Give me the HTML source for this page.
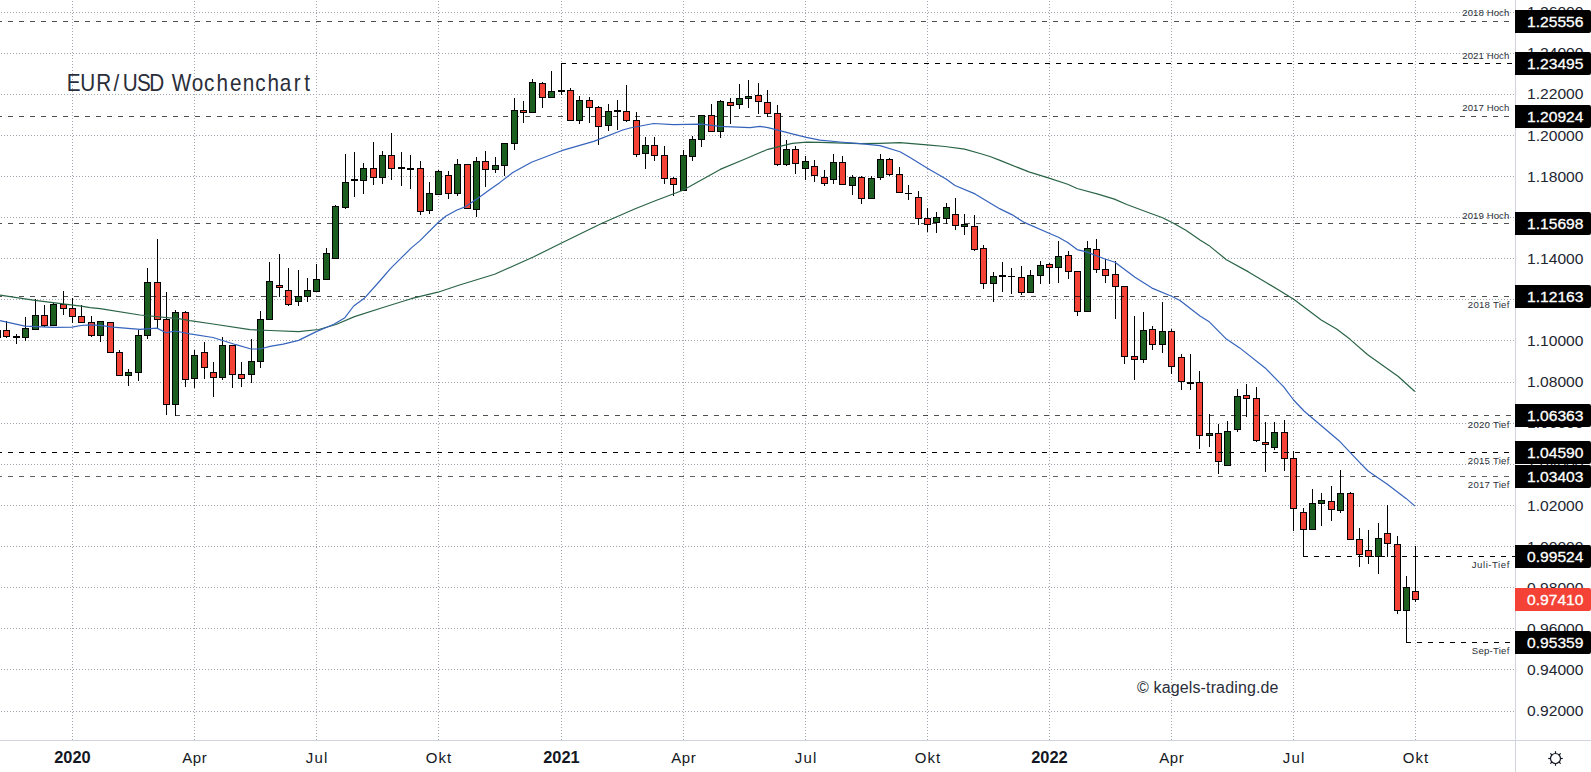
<!DOCTYPE html><html><head><meta charset="utf-8"><style>
html,body{margin:0;padding:0;background:#fff;width:1591px;height:772px;overflow:hidden}
svg{display:block;font-family:"Liberation Sans",sans-serif}
</style></head><body>
<svg width="1591" height="772" viewBox="0 0 1591 772">
<rect width="1591" height="772" fill="#fff"/>
<g stroke="#a3a6b1" stroke-width="1" stroke-dasharray="1 2" shape-rendering="crispEdges">
<path d="M1 12.5H1515"/>
<path d="M1 53.5H1515"/>
<path d="M1 94.5H1515"/>
<path d="M1 135.5H1515"/>
<path d="M1 176.5H1515"/>
<path d="M1 217.5H1515"/>
<path d="M1 258.5H1515"/>
<path d="M1 299.5H1515"/>
<path d="M1 340.5H1515"/>
<path d="M1 382.5H1515"/>
<path d="M1 423.5H1515"/>
<path d="M1 464.5H1515"/>
<path d="M1 505.5H1515"/>
<path d="M1 546.5H1515"/>
<path d="M1 587.5H1515"/>
<path d="M1 628.5H1515"/>
<path d="M1 669.5H1515"/>
<path d="M1 711.5H1515"/>
<path d="M72.5 1V740"/>
<path d="M194.5 1V740"/>
<path d="M316.5 1V740"/>
<path d="M438.5 1V740"/>
<path d="M561.5 1V740"/>
<path d="M683.5 1V740"/>
<path d="M805.5 1V740"/>
<path d="M927.5 1V740"/>
<path d="M1049.5 1V740"/>
<path d="M1171.5 1V740"/>
<path d="M1293.5 1V740"/>
<path d="M1415.5 1V740"/>
</g>
<g stroke-width="1" shape-rendering="crispEdges" fill="none">
<path d="M0 21.5H1515" stroke="rgba(0,0,0,0.69)" stroke-dasharray="5 6" stroke-dashoffset="3"/>
<path d="M561 63.5H1515" stroke="#000" stroke-dasharray="5 6"/>
<path d="M0 116.5H1515" stroke="rgba(0,0,0,0.69)" stroke-dasharray="5 6" stroke-dashoffset="3"/>
<path d="M0 223.5H1515" stroke="rgba(0,0,0,0.69)" stroke-dasharray="5 6" stroke-dashoffset="3"/>
</g>
<g shape-rendering="crispEdges">
<rect x="-3" y="326" width="1" height="15" fill="#000"/>
<rect x="-6" y="330" width="7" height="8" fill="#000"/>
<rect x="-5" y="331" width="5" height="6" fill="#1b5e20"/>
<rect x="6" y="321" width="1" height="17" fill="#000"/>
<rect x="3" y="330" width="7" height="7" fill="#000"/>
<rect x="4" y="331" width="5" height="5" fill="#f44336"/>
<rect x="16" y="334" width="1" height="10" fill="#000"/>
<rect x="13" y="336" width="7" height="2" fill="#000"/>
<rect x="25" y="317" width="1" height="24" fill="#000"/>
<rect x="22" y="328" width="7" height="10" fill="#000"/>
<rect x="23" y="329" width="5" height="8" fill="#1b5e20"/>
<rect x="35" y="299" width="1" height="31" fill="#000"/>
<rect x="32" y="315" width="7" height="15" fill="#000"/>
<rect x="33" y="316" width="5" height="13" fill="#1b5e20"/>
<rect x="44" y="305" width="1" height="22" fill="#000"/>
<rect x="41" y="315" width="7" height="11" fill="#000"/>
<rect x="42" y="316" width="5" height="9" fill="#f44336"/>
<rect x="53" y="303" width="1" height="23" fill="#000"/>
<rect x="50" y="304" width="7" height="22" fill="#000"/>
<rect x="51" y="305" width="5" height="20" fill="#1b5e20"/>
<rect x="63" y="291" width="1" height="24" fill="#000"/>
<rect x="60" y="304" width="7" height="5" fill="#000"/>
<rect x="61" y="305" width="5" height="3" fill="#f44336"/>
<rect x="72" y="298" width="1" height="25" fill="#000"/>
<rect x="69" y="308" width="7" height="9" fill="#000"/>
<rect x="70" y="309" width="5" height="7" fill="#f44336"/>
<rect x="81" y="305" width="1" height="18" fill="#000"/>
<rect x="78" y="316" width="7" height="7" fill="#000"/>
<rect x="79" y="317" width="5" height="5" fill="#f44336"/>
<rect x="91" y="316" width="1" height="21" fill="#000"/>
<rect x="88" y="322" width="7" height="14" fill="#000"/>
<rect x="89" y="323" width="5" height="12" fill="#f44336"/>
<rect x="100" y="321" width="1" height="21" fill="#000"/>
<rect x="97" y="321" width="7" height="15" fill="#000"/>
<rect x="98" y="322" width="5" height="13" fill="#1b5e20"/>
<rect x="110" y="322" width="1" height="31" fill="#000"/>
<rect x="107" y="322" width="7" height="31" fill="#000"/>
<rect x="108" y="323" width="5" height="29" fill="#f44336"/>
<rect x="119" y="350" width="1" height="26" fill="#000"/>
<rect x="116" y="352" width="7" height="24" fill="#000"/>
<rect x="117" y="353" width="5" height="22" fill="#f44336"/>
<rect x="128" y="369" width="1" height="17" fill="#000"/>
<rect x="125" y="372" width="7" height="4" fill="#000"/>
<rect x="126" y="373" width="5" height="2" fill="#1b5e20"/>
<rect x="138" y="330" width="1" height="51" fill="#000"/>
<rect x="135" y="335" width="7" height="38" fill="#000"/>
<rect x="136" y="336" width="5" height="36" fill="#1b5e20"/>
<rect x="147" y="268" width="1" height="71" fill="#000"/>
<rect x="144" y="282" width="7" height="54" fill="#000"/>
<rect x="145" y="283" width="5" height="52" fill="#1b5e20"/>
<rect x="157" y="239" width="1" height="90" fill="#000"/>
<rect x="154" y="282" width="7" height="38" fill="#000"/>
<rect x="155" y="283" width="5" height="36" fill="#f44336"/>
<rect x="166" y="292" width="1" height="123" fill="#000"/>
<rect x="163" y="319" width="7" height="86" fill="#000"/>
<rect x="164" y="320" width="5" height="84" fill="#f44336"/>
<rect x="175" y="310" width="1" height="106" fill="#000"/>
<rect x="172" y="312" width="7" height="93" fill="#000"/>
<rect x="173" y="313" width="5" height="91" fill="#1b5e20"/>
<rect x="185" y="311" width="1" height="76" fill="#000"/>
<rect x="182" y="312" width="7" height="68" fill="#000"/>
<rect x="183" y="313" width="5" height="66" fill="#f44336"/>
<rect x="194" y="350" width="1" height="38" fill="#000"/>
<rect x="191" y="355" width="7" height="24" fill="#000"/>
<rect x="192" y="356" width="5" height="22" fill="#1b5e20"/>
<rect x="204" y="342" width="1" height="37" fill="#000"/>
<rect x="201" y="352" width="7" height="16" fill="#000"/>
<rect x="202" y="353" width="5" height="14" fill="#f44336"/>
<rect x="213" y="362" width="1" height="35" fill="#000"/>
<rect x="210" y="372" width="7" height="6" fill="#000"/>
<rect x="211" y="373" width="5" height="4" fill="#f44336"/>
<rect x="222" y="337" width="1" height="43" fill="#000"/>
<rect x="219" y="345" width="7" height="33" fill="#000"/>
<rect x="220" y="346" width="5" height="31" fill="#1b5e20"/>
<rect x="232" y="345" width="1" height="43" fill="#000"/>
<rect x="229" y="345" width="7" height="30" fill="#000"/>
<rect x="230" y="346" width="5" height="28" fill="#f44336"/>
<rect x="241" y="362" width="1" height="25" fill="#000"/>
<rect x="238" y="374" width="7" height="5" fill="#000"/>
<rect x="239" y="375" width="5" height="3" fill="#f44336"/>
<rect x="251" y="339" width="1" height="44" fill="#000"/>
<rect x="248" y="361" width="7" height="14" fill="#000"/>
<rect x="249" y="362" width="5" height="12" fill="#1b5e20"/>
<rect x="260" y="311" width="1" height="57" fill="#000"/>
<rect x="257" y="319" width="7" height="43" fill="#000"/>
<rect x="258" y="320" width="5" height="41" fill="#1b5e20"/>
<rect x="269" y="262" width="1" height="58" fill="#000"/>
<rect x="266" y="281" width="7" height="39" fill="#000"/>
<rect x="267" y="282" width="5" height="37" fill="#1b5e20"/>
<rect x="279" y="254" width="1" height="43" fill="#000"/>
<rect x="276" y="285" width="7" height="3" fill="#000"/>
<rect x="277" y="286" width="5" height="1" fill="#f44336"/>
<rect x="288" y="268" width="1" height="38" fill="#000"/>
<rect x="285" y="290" width="7" height="15" fill="#000"/>
<rect x="286" y="291" width="5" height="13" fill="#f44336"/>
<rect x="298" y="270" width="1" height="36" fill="#000"/>
<rect x="295" y="296" width="7" height="6" fill="#000"/>
<rect x="296" y="297" width="5" height="4" fill="#1b5e20"/>
<rect x="307" y="278" width="1" height="24" fill="#000"/>
<rect x="304" y="290" width="7" height="7" fill="#000"/>
<rect x="305" y="291" width="5" height="5" fill="#1b5e20"/>
<rect x="316" y="264" width="1" height="28" fill="#000"/>
<rect x="313" y="279" width="7" height="13" fill="#000"/>
<rect x="314" y="280" width="5" height="11" fill="#1b5e20"/>
<rect x="326" y="248" width="1" height="32" fill="#000"/>
<rect x="323" y="253" width="7" height="27" fill="#000"/>
<rect x="324" y="254" width="5" height="25" fill="#1b5e20"/>
<rect x="335" y="205" width="1" height="54" fill="#000"/>
<rect x="332" y="206" width="7" height="53" fill="#000"/>
<rect x="333" y="207" width="5" height="51" fill="#1b5e20"/>
<rect x="345" y="154" width="1" height="55" fill="#000"/>
<rect x="342" y="182" width="7" height="26" fill="#000"/>
<rect x="343" y="183" width="5" height="24" fill="#1b5e20"/>
<rect x="354" y="152" width="1" height="45" fill="#000"/>
<rect x="351" y="179" width="7" height="2" fill="#000"/>
<rect x="363" y="163" width="1" height="31" fill="#000"/>
<rect x="360" y="168" width="7" height="13" fill="#000"/>
<rect x="361" y="169" width="5" height="11" fill="#1b5e20"/>
<rect x="373" y="142" width="1" height="43" fill="#000"/>
<rect x="370" y="168" width="7" height="10" fill="#000"/>
<rect x="371" y="169" width="5" height="8" fill="#f44336"/>
<rect x="382" y="151" width="1" height="33" fill="#000"/>
<rect x="379" y="155" width="7" height="23" fill="#000"/>
<rect x="380" y="156" width="5" height="21" fill="#1b5e20"/>
<rect x="391" y="133" width="1" height="47" fill="#000"/>
<rect x="388" y="155" width="7" height="14" fill="#000"/>
<rect x="389" y="156" width="5" height="12" fill="#f44336"/>
<rect x="401" y="152" width="1" height="34" fill="#000"/>
<rect x="398" y="167" width="7" height="2" fill="#000"/>
<rect x="410" y="155" width="1" height="34" fill="#000"/>
<rect x="407" y="168" width="7" height="2" fill="#000"/>
<rect x="420" y="161" width="1" height="54" fill="#000"/>
<rect x="417" y="168" width="7" height="44" fill="#000"/>
<rect x="418" y="169" width="5" height="42" fill="#f44336"/>
<rect x="429" y="182" width="1" height="32" fill="#000"/>
<rect x="426" y="193" width="7" height="18" fill="#000"/>
<rect x="427" y="194" width="5" height="16" fill="#1b5e20"/>
<rect x="438" y="170" width="1" height="25" fill="#000"/>
<rect x="435" y="171" width="7" height="24" fill="#000"/>
<rect x="436" y="172" width="5" height="22" fill="#1b5e20"/>
<rect x="448" y="171" width="1" height="28" fill="#000"/>
<rect x="445" y="175" width="7" height="19" fill="#000"/>
<rect x="446" y="176" width="5" height="17" fill="#f44336"/>
<rect x="457" y="159" width="1" height="37" fill="#000"/>
<rect x="454" y="164" width="7" height="30" fill="#000"/>
<rect x="455" y="165" width="5" height="28" fill="#1b5e20"/>
<rect x="467" y="165" width="1" height="44" fill="#000"/>
<rect x="464" y="164" width="7" height="45" fill="#000"/>
<rect x="465" y="165" width="5" height="43" fill="#f44336"/>
<rect x="476" y="157" width="1" height="60" fill="#000"/>
<rect x="473" y="161" width="7" height="49" fill="#000"/>
<rect x="474" y="162" width="5" height="47" fill="#1b5e20"/>
<rect x="485" y="151" width="1" height="36" fill="#000"/>
<rect x="482" y="161" width="7" height="9" fill="#000"/>
<rect x="483" y="162" width="5" height="7" fill="#f44336"/>
<rect x="495" y="157" width="1" height="16" fill="#000"/>
<rect x="492" y="165" width="7" height="5" fill="#000"/>
<rect x="493" y="166" width="5" height="3" fill="#1b5e20"/>
<rect x="504" y="143" width="1" height="33" fill="#000"/>
<rect x="501" y="143" width="7" height="23" fill="#000"/>
<rect x="502" y="144" width="5" height="21" fill="#1b5e20"/>
<rect x="514" y="98" width="1" height="52" fill="#000"/>
<rect x="511" y="110" width="7" height="34" fill="#000"/>
<rect x="512" y="111" width="5" height="32" fill="#1b5e20"/>
<rect x="523" y="101" width="1" height="22" fill="#000"/>
<rect x="520" y="110" width="7" height="3" fill="#000"/>
<rect x="521" y="111" width="5" height="1" fill="#f44336"/>
<rect x="532" y="79" width="1" height="34" fill="#000"/>
<rect x="529" y="82" width="7" height="31" fill="#000"/>
<rect x="530" y="83" width="5" height="29" fill="#1b5e20"/>
<rect x="542" y="82" width="1" height="26" fill="#000"/>
<rect x="539" y="83" width="7" height="15" fill="#000"/>
<rect x="540" y="84" width="5" height="13" fill="#f44336"/>
<rect x="551" y="71" width="1" height="27" fill="#000"/>
<rect x="548" y="91" width="7" height="7" fill="#000"/>
<rect x="549" y="92" width="5" height="5" fill="#1b5e20"/>
<rect x="561" y="63" width="1" height="32" fill="#000"/>
<rect x="558" y="90" width="7" height="2" fill="#000"/>
<rect x="570" y="88" width="1" height="33" fill="#000"/>
<rect x="567" y="90" width="7" height="31" fill="#000"/>
<rect x="568" y="91" width="5" height="29" fill="#f44336"/>
<rect x="579" y="96" width="1" height="28" fill="#000"/>
<rect x="576" y="100" width="7" height="21" fill="#000"/>
<rect x="577" y="101" width="5" height="19" fill="#1b5e20"/>
<rect x="589" y="97" width="1" height="26" fill="#000"/>
<rect x="586" y="100" width="7" height="8" fill="#000"/>
<rect x="587" y="101" width="5" height="6" fill="#f44336"/>
<rect x="598" y="106" width="1" height="39" fill="#000"/>
<rect x="595" y="107" width="7" height="20" fill="#000"/>
<rect x="596" y="108" width="5" height="18" fill="#f44336"/>
<rect x="608" y="104" width="1" height="27" fill="#000"/>
<rect x="605" y="111" width="7" height="15" fill="#000"/>
<rect x="606" y="112" width="5" height="13" fill="#1b5e20"/>
<rect x="617" y="100" width="1" height="30" fill="#000"/>
<rect x="614" y="110" width="7" height="2" fill="#000"/>
<rect x="626" y="85" width="1" height="37" fill="#000"/>
<rect x="623" y="111" width="7" height="10" fill="#000"/>
<rect x="624" y="112" width="5" height="8" fill="#f44336"/>
<rect x="636" y="112" width="1" height="45" fill="#000"/>
<rect x="633" y="120" width="7" height="35" fill="#000"/>
<rect x="634" y="121" width="5" height="33" fill="#f44336"/>
<rect x="645" y="137" width="1" height="32" fill="#000"/>
<rect x="642" y="145" width="7" height="9" fill="#000"/>
<rect x="643" y="146" width="5" height="7" fill="#1b5e20"/>
<rect x="654" y="137" width="1" height="24" fill="#000"/>
<rect x="651" y="145" width="7" height="11" fill="#000"/>
<rect x="652" y="146" width="5" height="9" fill="#f44336"/>
<rect x="664" y="146" width="1" height="38" fill="#000"/>
<rect x="661" y="155" width="7" height="24" fill="#000"/>
<rect x="662" y="156" width="5" height="22" fill="#f44336"/>
<rect x="673" y="177" width="1" height="19" fill="#000"/>
<rect x="670" y="178" width="7" height="7" fill="#000"/>
<rect x="671" y="179" width="5" height="5" fill="#f44336"/>
<rect x="683" y="150" width="1" height="41" fill="#000"/>
<rect x="680" y="155" width="7" height="36" fill="#000"/>
<rect x="681" y="156" width="5" height="34" fill="#1b5e20"/>
<rect x="692" y="136" width="1" height="25" fill="#000"/>
<rect x="689" y="139" width="7" height="18" fill="#000"/>
<rect x="690" y="140" width="5" height="16" fill="#1b5e20"/>
<rect x="701" y="115" width="1" height="32" fill="#000"/>
<rect x="698" y="115" width="7" height="25" fill="#000"/>
<rect x="699" y="116" width="5" height="23" fill="#1b5e20"/>
<rect x="711" y="104" width="1" height="28" fill="#000"/>
<rect x="708" y="115" width="7" height="17" fill="#000"/>
<rect x="709" y="116" width="5" height="15" fill="#f44336"/>
<rect x="720" y="100" width="1" height="38" fill="#000"/>
<rect x="717" y="101" width="7" height="31" fill="#000"/>
<rect x="718" y="102" width="5" height="29" fill="#1b5e20"/>
<rect x="730" y="98" width="1" height="26" fill="#000"/>
<rect x="727" y="102" width="7" height="4" fill="#000"/>
<rect x="728" y="103" width="5" height="2" fill="#f44336"/>
<rect x="739" y="84" width="1" height="25" fill="#000"/>
<rect x="736" y="98" width="7" height="7" fill="#000"/>
<rect x="737" y="99" width="5" height="5" fill="#1b5e20"/>
<rect x="748" y="80" width="1" height="28" fill="#000"/>
<rect x="745" y="96" width="7" height="3" fill="#000"/>
<rect x="746" y="97" width="5" height="1" fill="#1b5e20"/>
<rect x="758" y="83" width="1" height="31" fill="#000"/>
<rect x="755" y="95" width="7" height="7" fill="#000"/>
<rect x="756" y="96" width="5" height="5" fill="#f44336"/>
<rect x="767" y="90" width="1" height="27" fill="#000"/>
<rect x="764" y="102" width="7" height="12" fill="#000"/>
<rect x="765" y="103" width="5" height="10" fill="#f44336"/>
<rect x="777" y="105" width="1" height="61" fill="#000"/>
<rect x="774" y="113" width="7" height="52" fill="#000"/>
<rect x="775" y="114" width="5" height="50" fill="#f44336"/>
<rect x="786" y="140" width="1" height="26" fill="#000"/>
<rect x="783" y="149" width="7" height="16" fill="#000"/>
<rect x="784" y="150" width="5" height="14" fill="#1b5e20"/>
<rect x="795" y="146" width="1" height="28" fill="#000"/>
<rect x="792" y="149" width="7" height="15" fill="#000"/>
<rect x="793" y="150" width="5" height="13" fill="#f44336"/>
<rect x="805" y="156" width="1" height="24" fill="#000"/>
<rect x="802" y="161" width="7" height="8" fill="#000"/>
<rect x="803" y="162" width="5" height="6" fill="#1b5e20"/>
<rect x="814" y="160" width="1" height="22" fill="#000"/>
<rect x="811" y="166" width="7" height="10" fill="#000"/>
<rect x="812" y="167" width="5" height="8" fill="#f44336"/>
<rect x="824" y="170" width="1" height="16" fill="#000"/>
<rect x="821" y="177" width="7" height="7" fill="#000"/>
<rect x="822" y="178" width="5" height="5" fill="#f44336"/>
<rect x="833" y="154" width="1" height="30" fill="#000"/>
<rect x="830" y="162" width="7" height="18" fill="#000"/>
<rect x="831" y="163" width="5" height="16" fill="#1b5e20"/>
<rect x="842" y="156" width="1" height="29" fill="#000"/>
<rect x="839" y="162" width="7" height="23" fill="#000"/>
<rect x="840" y="163" width="5" height="21" fill="#f44336"/>
<rect x="852" y="175" width="1" height="20" fill="#000"/>
<rect x="849" y="177" width="7" height="9" fill="#000"/>
<rect x="850" y="178" width="5" height="7" fill="#1b5e20"/>
<rect x="861" y="176" width="1" height="28" fill="#000"/>
<rect x="858" y="177" width="7" height="22" fill="#000"/>
<rect x="859" y="178" width="5" height="20" fill="#f44336"/>
<rect x="871" y="176" width="1" height="23" fill="#000"/>
<rect x="868" y="178" width="7" height="21" fill="#000"/>
<rect x="869" y="179" width="5" height="19" fill="#1b5e20"/>
<rect x="880" y="154" width="1" height="26" fill="#000"/>
<rect x="877" y="159" width="7" height="19" fill="#000"/>
<rect x="878" y="160" width="5" height="17" fill="#1b5e20"/>
<rect x="889" y="158" width="1" height="18" fill="#000"/>
<rect x="886" y="159" width="7" height="16" fill="#000"/>
<rect x="887" y="160" width="5" height="14" fill="#f44336"/>
<rect x="899" y="167" width="1" height="26" fill="#000"/>
<rect x="896" y="174" width="7" height="19" fill="#000"/>
<rect x="897" y="175" width="5" height="17" fill="#f44336"/>
<rect x="908" y="185" width="1" height="15" fill="#000"/>
<rect x="905" y="193" width="7" height="1" fill="#000"/>
<rect x="918" y="191" width="1" height="34" fill="#000"/>
<rect x="915" y="197" width="7" height="22" fill="#000"/>
<rect x="916" y="198" width="5" height="20" fill="#f44336"/>
<rect x="927" y="208" width="1" height="24" fill="#000"/>
<rect x="924" y="218" width="7" height="7" fill="#000"/>
<rect x="925" y="219" width="5" height="5" fill="#f44336"/>
<rect x="936" y="212" width="1" height="21" fill="#000"/>
<rect x="933" y="217" width="7" height="6" fill="#000"/>
<rect x="934" y="218" width="5" height="4" fill="#1b5e20"/>
<rect x="946" y="203" width="1" height="21" fill="#000"/>
<rect x="943" y="207" width="7" height="12" fill="#000"/>
<rect x="944" y="208" width="5" height="10" fill="#1b5e20"/>
<rect x="955" y="198" width="1" height="32" fill="#000"/>
<rect x="952" y="214" width="7" height="12" fill="#000"/>
<rect x="953" y="215" width="5" height="10" fill="#f44336"/>
<rect x="964" y="214" width="1" height="21" fill="#000"/>
<rect x="961" y="224" width="7" height="3" fill="#000"/>
<rect x="962" y="225" width="5" height="1" fill="#1b5e20"/>
<rect x="974" y="215" width="1" height="36" fill="#000"/>
<rect x="971" y="226" width="7" height="24" fill="#000"/>
<rect x="972" y="227" width="5" height="22" fill="#f44336"/>
<rect x="983" y="245" width="1" height="44" fill="#000"/>
<rect x="980" y="248" width="7" height="36" fill="#000"/>
<rect x="981" y="249" width="5" height="34" fill="#f44336"/>
<rect x="993" y="272" width="1" height="30" fill="#000"/>
<rect x="990" y="276" width="7" height="8" fill="#000"/>
<rect x="991" y="277" width="5" height="6" fill="#1b5e20"/>
<rect x="1002" y="262" width="1" height="30" fill="#000"/>
<rect x="999" y="275" width="7" height="2" fill="#000"/>
<rect x="1011" y="268" width="1" height="26" fill="#000"/>
<rect x="1008" y="276" width="7" height="1" fill="#000"/>
<rect x="1021" y="266" width="1" height="29" fill="#000"/>
<rect x="1018" y="277" width="7" height="16" fill="#000"/>
<rect x="1019" y="278" width="5" height="14" fill="#f44336"/>
<rect x="1030" y="270" width="1" height="23" fill="#000"/>
<rect x="1027" y="275" width="7" height="18" fill="#000"/>
<rect x="1028" y="276" width="5" height="16" fill="#1b5e20"/>
<rect x="1040" y="261" width="1" height="23" fill="#000"/>
<rect x="1037" y="265" width="7" height="11" fill="#000"/>
<rect x="1038" y="266" width="5" height="9" fill="#1b5e20"/>
<rect x="1049" y="263" width="1" height="21" fill="#000"/>
<rect x="1046" y="264" width="7" height="4" fill="#000"/>
<rect x="1047" y="265" width="5" height="2" fill="#f44336"/>
<rect x="1058" y="241" width="1" height="42" fill="#000"/>
<rect x="1055" y="256" width="7" height="12" fill="#000"/>
<rect x="1056" y="257" width="5" height="10" fill="#1b5e20"/>
<rect x="1068" y="251" width="1" height="28" fill="#000"/>
<rect x="1065" y="255" width="7" height="17" fill="#000"/>
<rect x="1066" y="256" width="5" height="15" fill="#f44336"/>
<rect x="1077" y="271" width="1" height="45" fill="#000"/>
<rect x="1074" y="271" width="7" height="41" fill="#000"/>
<rect x="1075" y="272" width="5" height="39" fill="#f44336"/>
<rect x="1087" y="241" width="1" height="71" fill="#000"/>
<rect x="1084" y="248" width="7" height="64" fill="#000"/>
<rect x="1085" y="249" width="5" height="62" fill="#1b5e20"/>
<rect x="1096" y="239" width="1" height="34" fill="#000"/>
<rect x="1093" y="249" width="7" height="21" fill="#000"/>
<rect x="1094" y="250" width="5" height="19" fill="#f44336"/>
<rect x="1105" y="259" width="1" height="24" fill="#000"/>
<rect x="1102" y="269" width="7" height="7" fill="#000"/>
<rect x="1103" y="270" width="5" height="5" fill="#f44336"/>
<rect x="1115" y="261" width="1" height="58" fill="#000"/>
<rect x="1112" y="274" width="7" height="13" fill="#000"/>
<rect x="1113" y="275" width="5" height="11" fill="#f44336"/>
<rect x="1124" y="286" width="1" height="78" fill="#000"/>
<rect x="1121" y="286" width="7" height="71" fill="#000"/>
<rect x="1122" y="287" width="5" height="69" fill="#f44336"/>
<rect x="1134" y="316" width="1" height="64" fill="#000"/>
<rect x="1131" y="356" width="7" height="4" fill="#000"/>
<rect x="1132" y="357" width="5" height="2" fill="#f44336"/>
<rect x="1143" y="312" width="1" height="51" fill="#000"/>
<rect x="1140" y="330" width="7" height="30" fill="#000"/>
<rect x="1141" y="331" width="5" height="28" fill="#1b5e20"/>
<rect x="1152" y="326" width="1" height="24" fill="#000"/>
<rect x="1149" y="329" width="7" height="16" fill="#000"/>
<rect x="1150" y="330" width="5" height="14" fill="#f44336"/>
<rect x="1162" y="302" width="1" height="51" fill="#000"/>
<rect x="1159" y="331" width="7" height="14" fill="#000"/>
<rect x="1160" y="332" width="5" height="12" fill="#1b5e20"/>
<rect x="1171" y="329" width="1" height="45" fill="#000"/>
<rect x="1168" y="331" width="7" height="36" fill="#000"/>
<rect x="1169" y="332" width="5" height="34" fill="#f44336"/>
<rect x="1181" y="354" width="1" height="36" fill="#000"/>
<rect x="1178" y="357" width="7" height="25" fill="#000"/>
<rect x="1179" y="358" width="5" height="23" fill="#f44336"/>
<rect x="1190" y="354" width="1" height="36" fill="#000"/>
<rect x="1187" y="382" width="7" height="2" fill="#000"/>
<rect x="1199" y="371" width="1" height="78" fill="#000"/>
<rect x="1196" y="382" width="7" height="54" fill="#000"/>
<rect x="1197" y="383" width="5" height="52" fill="#f44336"/>
<rect x="1209" y="414" width="1" height="33" fill="#000"/>
<rect x="1206" y="433" width="7" height="3" fill="#000"/>
<rect x="1207" y="434" width="5" height="1" fill="#1b5e20"/>
<rect x="1218" y="424" width="1" height="50" fill="#000"/>
<rect x="1215" y="433" width="7" height="29" fill="#000"/>
<rect x="1216" y="434" width="5" height="27" fill="#f44336"/>
<rect x="1227" y="421" width="1" height="45" fill="#000"/>
<rect x="1224" y="431" width="7" height="35" fill="#000"/>
<rect x="1225" y="432" width="5" height="33" fill="#1b5e20"/>
<rect x="1237" y="389" width="1" height="43" fill="#000"/>
<rect x="1234" y="396" width="7" height="34" fill="#000"/>
<rect x="1235" y="397" width="5" height="32" fill="#1b5e20"/>
<rect x="1246" y="384" width="1" height="33" fill="#000"/>
<rect x="1243" y="395" width="7" height="4" fill="#000"/>
<rect x="1244" y="396" width="5" height="2" fill="#f44336"/>
<rect x="1256" y="387" width="1" height="55" fill="#000"/>
<rect x="1253" y="398" width="7" height="43" fill="#000"/>
<rect x="1254" y="399" width="5" height="41" fill="#f44336"/>
<rect x="1265" y="422" width="1" height="50" fill="#000"/>
<rect x="1262" y="442" width="7" height="3" fill="#000"/>
<rect x="1263" y="443" width="5" height="1" fill="#f44336"/>
<rect x="1274" y="422" width="1" height="28" fill="#000"/>
<rect x="1271" y="432" width="7" height="16" fill="#000"/>
<rect x="1272" y="433" width="5" height="14" fill="#1b5e20"/>
<rect x="1284" y="420" width="1" height="51" fill="#000"/>
<rect x="1281" y="432" width="7" height="27" fill="#000"/>
<rect x="1282" y="433" width="5" height="25" fill="#f44336"/>
<rect x="1293" y="451" width="1" height="80" fill="#000"/>
<rect x="1290" y="458" width="7" height="51" fill="#000"/>
<rect x="1291" y="459" width="5" height="49" fill="#f44336"/>
<rect x="1303" y="508" width="1" height="49" fill="#000"/>
<rect x="1300" y="512" width="7" height="18" fill="#000"/>
<rect x="1301" y="513" width="5" height="16" fill="#f44336"/>
<rect x="1312" y="489" width="1" height="41" fill="#000"/>
<rect x="1309" y="503" width="7" height="27" fill="#000"/>
<rect x="1310" y="504" width="5" height="25" fill="#1b5e20"/>
<rect x="1321" y="493" width="1" height="33" fill="#000"/>
<rect x="1318" y="500" width="7" height="4" fill="#000"/>
<rect x="1319" y="501" width="5" height="2" fill="#1b5e20"/>
<rect x="1331" y="486" width="1" height="35" fill="#000"/>
<rect x="1328" y="501" width="7" height="9" fill="#000"/>
<rect x="1329" y="502" width="5" height="7" fill="#f44336"/>
<rect x="1340" y="470" width="1" height="43" fill="#000"/>
<rect x="1337" y="493" width="7" height="18" fill="#000"/>
<rect x="1338" y="494" width="5" height="16" fill="#1b5e20"/>
<rect x="1350" y="492" width="1" height="48" fill="#000"/>
<rect x="1347" y="493" width="7" height="47" fill="#000"/>
<rect x="1348" y="494" width="5" height="45" fill="#f44336"/>
<rect x="1359" y="528" width="1" height="39" fill="#000"/>
<rect x="1356" y="539" width="7" height="16" fill="#000"/>
<rect x="1357" y="540" width="5" height="14" fill="#f44336"/>
<rect x="1368" y="530" width="1" height="34" fill="#000"/>
<rect x="1365" y="550" width="7" height="7" fill="#000"/>
<rect x="1366" y="551" width="5" height="5" fill="#f44336"/>
<rect x="1378" y="523" width="1" height="51" fill="#000"/>
<rect x="1375" y="538" width="7" height="19" fill="#000"/>
<rect x="1376" y="539" width="5" height="17" fill="#1b5e20"/>
<rect x="1387" y="505" width="1" height="52" fill="#000"/>
<rect x="1384" y="533" width="7" height="11" fill="#000"/>
<rect x="1385" y="534" width="5" height="9" fill="#f44336"/>
<rect x="1397" y="536" width="1" height="78" fill="#000"/>
<rect x="1394" y="544" width="7" height="67" fill="#000"/>
<rect x="1395" y="545" width="5" height="65" fill="#f44336"/>
<rect x="1406" y="576" width="1" height="67" fill="#000"/>
<rect x="1403" y="587" width="7" height="24" fill="#000"/>
<rect x="1404" y="588" width="5" height="22" fill="#1b5e20"/>
<rect x="1415" y="546" width="1" height="56" fill="#000"/>
<rect x="1412" y="591" width="7" height="9" fill="#000"/>
<rect x="1413" y="592" width="5" height="7" fill="#f44336"/>
</g>
<g stroke-width="1" shape-rendering="crispEdges" fill="none">
<path d="M0 296.5H1515" stroke="rgba(0,0,0,0.69)" stroke-dasharray="5 6" stroke-dashoffset="3"/>
<path d="M175 415.5H1515" stroke="rgba(0,0,0,0.69)" stroke-dasharray="5 6"/>
<path d="M0 452.5H1515" stroke="#000" stroke-dasharray="5 6" stroke-dashoffset="3"/>
<path d="M0 476.5H1515" stroke="rgba(0,0,0,0.62)" stroke-dasharray="5 6" stroke-dashoffset="3"/>
<path d="M1303 556.5H1515" stroke="#000" stroke-dasharray="5 6"/>
<path d="M1406 642.5H1515" stroke="#000" stroke-dasharray="5 6"/>
</g>
<polyline points="0.0,295.2 35.0,300.4 63.0,303.9 81.0,306.2 90.0,307.6 100.0,308.6 140.0,315.0 180.0,318.8 190.0,320.6 213.0,324.0 250.0,329.6 270.0,330.5 298.6,331.6 318.8,329.5 336.0,324.5 354.5,316.6 383.0,307.5 411.1,298.7 437.9,292.2 458.8,285.3 494.6,274.3 533.3,257.0 563.1,242.2 602.0,223.3 635.2,208.8 655.9,200.5 682.9,190.2 720.2,169.4 745.1,159.0 767.9,149.3 780.0,146.4 792.2,143.4 806.4,142.1 820.0,142.3 860.0,143.6 880.0,143.3 900.0,142.7 926.9,144.8 945.0,146.5 964.6,149.1 980.0,153.5 990.0,156.5 1000.0,160.4 1028.9,171.9 1049.1,178.1 1067.7,184.3 1077.1,188.5 1098.8,194.4 1114.4,199.1 1126.8,204.5 1145.5,211.5 1162.6,217.7 1173.5,223.2 1185.9,230.2 1200.0,239.9 1208.8,245.4 1226.4,259.7 1248.5,271.9 1266.1,282.4 1288.1,295.7 1294.7,300.1 1321.2,319.9 1336.6,329.1 1349.8,339.1 1367.4,354.5 1398.3,376.5 1414.8,391.5" fill="none" stroke="#2a6446" stroke-width="1.2" stroke-linejoin="round"/>
<polyline points="0.0,320.6 25.0,326.2 53.0,327.4 72.0,327.2 81.0,325.5 90.0,324.9 100.0,325.3 113.0,327.2 140.0,329.4 157.0,328.1 166.0,332.8 175.0,331.0 190.0,333.8 213.0,337.5 221.8,340.2 236.0,344.7 251.0,349.0 260.0,349.0 270.0,346.3 283.2,344.1 298.6,340.4 316.3,331.6 333.9,324.3 344.9,317.7 353.7,306.0 364.7,297.9 380.2,280.5 390.2,268.9 411.1,248.1 420.0,240.6 437.9,222.8 446.0,216.0 457.0,210.0 465.7,206.6 480.0,196.7 490.0,189.5 500.0,182.4 512.8,172.5 531.5,162.2 561.6,150.7 593.7,141.4 622.8,130.0 630.0,128.0 653.6,123.5 673.4,124.7 700.7,124.2 720.0,126.4 750.0,127.6 760.0,126.4 767.9,127.7 777.9,130.2 792.2,133.8 806.4,137.3 820.0,140.1 840.0,142.0 860.0,143.7 880.0,145.6 900.0,151.7 910.0,157.6 927.0,167.9 946.0,178.9 955.0,185.5 975.0,193.9 990.0,203.0 1000.0,208.9 1011.8,214.6 1024.2,222.4 1049.1,233.3 1058.4,237.2 1067.7,242.6 1077.1,249.6 1086.4,251.9 1105.0,259.0 1115.0,262.2 1135.0,277.3 1152.0,288.1 1171.0,296.0 1180.0,300.5 1200.0,315.9 1208.8,321.4 1226.4,339.1 1239.7,347.9 1266.1,368.8 1283.7,386.9 1293.6,400.0 1304.0,411.0 1339.0,440.7 1360.0,462.8 1368.0,471.0 1387.0,484.0 1406.0,498.4 1415.0,506.1" fill="none" stroke="#3563bb" stroke-width="1.2" stroke-linejoin="round"/>
<g font-size="9.6" fill="#2a2e39" text-anchor="end">
<text x="1509.3" y="16.23" textLength="47" lengthAdjust="spacing">2018 Hoch</text>
<text x="1509.3" y="58.60" textLength="47" lengthAdjust="spacing">2021 Hoch</text>
<text x="1509.3" y="111.46" textLength="47" lengthAdjust="spacing">2017 Hoch</text>
<text x="1509.3" y="218.90" textLength="47" lengthAdjust="spacing">2019 Hoch</text>
<text x="1509.3" y="308.27" textLength="41.5" lengthAdjust="spacing">2018 Tief</text>
<text x="1509.3" y="427.52" textLength="41.5" lengthAdjust="spacing">2020 Tief</text>
<text x="1509.3" y="463.97" textLength="41.5" lengthAdjust="spacing">2015 Tief</text>
<text x="1509.3" y="488.37" textLength="41.5" lengthAdjust="spacing">2017 Tief</text>
<text x="1509.3" y="568.12" textLength="37.5" lengthAdjust="spacing">Juli-Tief</text>
<text x="1509.3" y="653.75" textLength="37.5" lengthAdjust="spacing">Sep-Tief</text>
</g>
<rect x="1515" y="0" width="1" height="772" fill="#d1d4dc"/>
<rect x="0" y="740" width="1591" height="1" fill="#d1d4dc"/>
<g font-size="15.3" fill="#222631">
<text x="1527" y="17.20" textLength="56.5" lengthAdjust="spacingAndGlyphs">1.26000</text>
<text x="1527" y="58.32" textLength="56.5" lengthAdjust="spacingAndGlyphs">1.24000</text>
<text x="1527" y="99.44" textLength="56.5" lengthAdjust="spacingAndGlyphs">1.22000</text>
<text x="1527" y="140.55" textLength="56.5" lengthAdjust="spacingAndGlyphs">1.20000</text>
<text x="1527" y="181.67" textLength="56.5" lengthAdjust="spacingAndGlyphs">1.18000</text>
<text x="1527" y="222.79" textLength="56.5" lengthAdjust="spacingAndGlyphs">1.16000</text>
<text x="1527" y="263.91" textLength="56.5" lengthAdjust="spacingAndGlyphs">1.14000</text>
<text x="1527" y="305.03" textLength="56.5" lengthAdjust="spacingAndGlyphs">1.12000</text>
<text x="1527" y="346.14" textLength="56.5" lengthAdjust="spacingAndGlyphs">1.10000</text>
<text x="1527" y="387.26" textLength="56.5" lengthAdjust="spacingAndGlyphs">1.08000</text>
<text x="1527" y="428.38" textLength="56.5" lengthAdjust="spacingAndGlyphs">1.06000</text>
<text x="1527" y="469.50" textLength="56.5" lengthAdjust="spacingAndGlyphs">1.04000</text>
<text x="1527" y="510.62" textLength="56.5" lengthAdjust="spacingAndGlyphs">1.02000</text>
<text x="1527" y="551.73" textLength="56.5" lengthAdjust="spacingAndGlyphs">1.00000</text>
<text x="1527" y="592.85" textLength="56.5" lengthAdjust="spacingAndGlyphs">0.98000</text>
<text x="1527" y="633.97" textLength="56.5" lengthAdjust="spacingAndGlyphs">0.96000</text>
<text x="1527" y="675.09" textLength="56.5" lengthAdjust="spacingAndGlyphs">0.94000</text>
<text x="1527" y="716.21" textLength="56.5" lengthAdjust="spacingAndGlyphs">0.92000</text>
</g>
<path d="M1515 10H1589a2 2 0 0 1 2 2V31a2 2 0 0 1 -2 2H1515Z" fill="#000"/>
<text x="1527" y="27" font-size="15.3" fill="#fff" stroke="#fff" stroke-width="0.3" textLength="56.5" lengthAdjust="spacingAndGlyphs">1.25556</text>
<path d="M1515 52H1589a2 2 0 0 1 2 2V73a2 2 0 0 1 -2 2H1515Z" fill="#000"/>
<text x="1527" y="69" font-size="15.3" fill="#fff" stroke="#fff" stroke-width="0.3" textLength="56.5" lengthAdjust="spacingAndGlyphs">1.23495</text>
<path d="M1515 105H1589a2 2 0 0 1 2 2V126a2 2 0 0 1 -2 2H1515Z" fill="#000"/>
<text x="1527" y="122" font-size="15.3" fill="#fff" stroke="#fff" stroke-width="0.3" textLength="56.5" lengthAdjust="spacingAndGlyphs">1.20924</text>
<path d="M1515 212H1589a2 2 0 0 1 2 2V233a2 2 0 0 1 -2 2H1515Z" fill="#000"/>
<text x="1527" y="229" font-size="15.3" fill="#fff" stroke="#fff" stroke-width="0.3" textLength="56.5" lengthAdjust="spacingAndGlyphs">1.15698</text>
<path d="M1515 285H1589a2 2 0 0 1 2 2V306a2 2 0 0 1 -2 2H1515Z" fill="#000"/>
<text x="1527" y="302" font-size="15.3" fill="#fff" stroke="#fff" stroke-width="0.3" textLength="56.5" lengthAdjust="spacingAndGlyphs">1.12163</text>
<path d="M1515 404H1589a2 2 0 0 1 2 2V425a2 2 0 0 1 -2 2H1515Z" fill="#000"/>
<text x="1527" y="421" font-size="15.3" fill="#fff" stroke="#fff" stroke-width="0.3" textLength="56.5" lengthAdjust="spacingAndGlyphs">1.06363</text>
<path d="M1515 441H1589a2 2 0 0 1 2 2V462a2 2 0 0 1 -2 2H1515Z" fill="#000"/>
<text x="1527" y="458" font-size="15.3" fill="#fff" stroke="#fff" stroke-width="0.3" textLength="56.5" lengthAdjust="spacingAndGlyphs">1.04590</text>
<path d="M1515 465H1589a2 2 0 0 1 2 2V486a2 2 0 0 1 -2 2H1515Z" fill="#000"/>
<text x="1527" y="482" font-size="15.3" fill="#fff" stroke="#fff" stroke-width="0.3" textLength="56.5" lengthAdjust="spacingAndGlyphs">1.03403</text>
<path d="M1515 545H1589a2 2 0 0 1 2 2V566a2 2 0 0 1 -2 2H1515Z" fill="#000"/>
<text x="1527" y="562" font-size="15.3" fill="#fff" stroke="#fff" stroke-width="0.3" textLength="56.5" lengthAdjust="spacingAndGlyphs">0.99524</text>
<path d="M1515 588H1589a2 2 0 0 1 2 2V609a2 2 0 0 1 -2 2H1515Z" fill="#f44336"/>
<text x="1527" y="605" font-size="15.3" fill="#fff" stroke="#fff" stroke-width="0.3" textLength="56.5" lengthAdjust="spacingAndGlyphs">0.97410</text>
<path d="M1515 631H1589a2 2 0 0 1 2 2V652a2 2 0 0 1 -2 2H1515Z" fill="#000"/>
<text x="1527" y="648" font-size="15.3" fill="#fff" stroke="#fff" stroke-width="0.3" textLength="56.5" lengthAdjust="spacingAndGlyphs">0.95359</text>
<g font-size="15" fill="#131722" text-anchor="middle">
<text x="72.5" y="763" font-size="15.8" font-weight="bold" textLength="36.5" lengthAdjust="spacingAndGlyphs">2020</text>
<text x="194.5" y="763" textLength="24.5" lengthAdjust="spacing">Apr</text>
<text x="316.5" y="763" textLength="21.5" lengthAdjust="spacing">Jul</text>
<text x="438.5" y="763" textLength="25.5" lengthAdjust="spacing">Okt</text>
<text x="561.5" y="763" font-size="15.8" font-weight="bold" textLength="36.5" lengthAdjust="spacingAndGlyphs">2021</text>
<text x="683.5" y="763" textLength="24.5" lengthAdjust="spacing">Apr</text>
<text x="805.5" y="763" textLength="21.5" lengthAdjust="spacing">Jul</text>
<text x="927.5" y="763" textLength="25.5" lengthAdjust="spacing">Okt</text>
<text x="1049.5" y="763" font-size="15.8" font-weight="bold" textLength="36.5" lengthAdjust="spacingAndGlyphs">2022</text>
<text x="1171.5" y="763" textLength="24.5" lengthAdjust="spacing">Apr</text>
<text x="1293.5" y="763" textLength="21.5" lengthAdjust="spacing">Jul</text>
<text x="1415.5" y="763" textLength="25.5" lengthAdjust="spacing">Okt</text>
</g>
<g stroke="#131722" stroke-width="1.2" fill="none"><circle cx="1555.5" cy="758.5" r="5"/><path d="M1560.50 758.50L1562.80 758.50"/><path d="M1559.04 762.04L1560.66 763.66"/><path d="M1555.50 763.50L1555.50 765.80"/><path d="M1551.96 762.04L1550.34 763.66"/><path d="M1550.50 758.50L1548.20 758.50"/><path d="M1551.96 754.96L1550.34 753.34"/><path d="M1555.50 753.50L1555.50 751.20"/><path d="M1559.04 754.96L1560.66 753.34"/></g>
<text transform="scale(0.9,1)" x="74.06 89.17 106.83 126.22 136.28 152.33 165.89 190.89 213.00 226.56 240.56 255.44 269.83 283.72 297.11 310.78 326.33 338.06" y="91.5" font-size="23" fill="#2a2e39">EUR/USDWochenchart</text>
<text x="1137" y="692.5" font-size="16" fill="#2a2e39" textLength="141.5" lengthAdjust="spacing">© kagels-trading.de</text>
</svg></body></html>
